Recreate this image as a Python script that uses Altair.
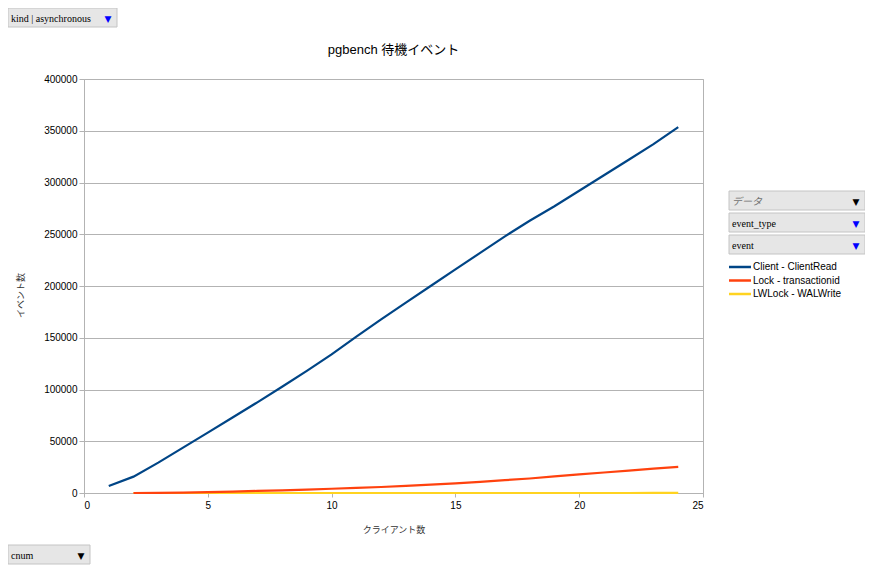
import altair as alt
import pandas as pd

# ---- data ----
cnum = list(range(1, 25))
client_read = [6800, 15800, 29300, 43800, 58300, 73000, 87600, 102700, 118000, 134000,
               151000, 167800, 184000, 200000, 216000, 232000, 248000, 263000, 277000,
               292000, 307000, 322000, 337000, 353500]
cnum_lock = list(range(2, 25))
lock_txid = [0, 100, 300, 900, 1400, 2000, 2600, 3300, 4100, 4900, 5800, 6800, 8000,
             9300, 10800, 12400, 14000, 16000, 18000, 19800, 21700, 23500, 25200]
lwlock_walwrite = [0, 0, 0, 0, 0, 0, 0, 0, 0, 0, 0, 0, 0, 0, 0, 0, 0, 0, 0, 0, 0, 50, 100]

series_names = ["Client - ClientRead", "Lock - transactionid", "LWLock - WALWrite"]
series_colors = ["#004586", "#ff420e", "#ffd320"]
chart_title = "pgbench  待機イベント"

rows = []
for x, v in zip(cnum, client_read):
    rows.append({"cnum": x, "value": v, "series": series_names[0], "ord": 0})
for x, v in zip(cnum_lock, lwlock_walwrite):
    rows.append({"cnum": x, "value": v, "series": series_names[2], "ord": 1})
for x, v in zip(cnum_lock, lock_txid):
    rows.append({"cnum": x, "value": v, "series": series_names[1], "ord": 2})
df = pd.DataFrame(rows)

FONT = "Liberation Sans, Noto Sans CJK JP"

lines = alt.Chart(df).mark_line(strokeWidth=2.2).encode(
    x=alt.X("cnum:Q", scale=alt.Scale(domain=[0, 25], nice=False),
            axis=alt.Axis(values=[0, 5, 10, 15, 20, 25], title="クライアント数",
                          grid=False, tickSize=4, labelPadding=3,
                          titlePadding=15, titleFontSize=9, titleFontWeight="normal",
                          titleColor="#333333")),
    y=alt.Y("value:Q", scale=alt.Scale(domain=[0, 400000], nice=False),
            axis=alt.Axis(values=list(range(0, 400001, 50000)), format="d",
                          title="イベント数", grid=True, tickSize=5, labelPadding=2,
                          titleFontSize=9, titleFontWeight="normal", titleColor="#333333",
                          titleX=-64, titleY=216, titleAngle=-90, titleAlign="center",
                          titleBaseline="middle")),
    color=alt.Color("series:N",
                    scale=alt.Scale(domain=series_names, range=series_colors),
                    legend=None),
    order=alt.Order("ord:Q"),
    detail="series:N",
)


def button(x, y, w, h, text, arrow_color, text_color="black", italic=False):
    d = alt.Data(values=[{}])
    rect = alt.Chart(d).mark_rect(fill="#e6e6e6", stroke="#c4c4c4", strokeWidth=1).encode(
        x=alt.value(x), x2=alt.value(x + w), y=alt.value(y), y2=alt.value(y + h))
    txt = alt.Chart(d).mark_text(align="left", baseline="middle", fontSize=10,
                                 font="Liberation Serif, Noto Sans CJK JP",
                                 fontStyle="italic" if italic else "normal",
                                 color=text_color, text=text).encode(
        x=alt.value(x + 3), y=alt.value(y + h / 2 + 1))
    arr = alt.Chart(d).mark_text(align="center", baseline="middle", fontSize=9,
                                 font="DejaVu Sans", color=arrow_color, text="▼").encode(
        x=alt.value(x + w - 9), y=alt.value(y + h / 2 + 1))
    return [rect, txt, arr]


def legend_entry(y, name, color):
    d = alt.Data(values=[{}])
    sym = alt.Chart(d).mark_rule(color=color, strokeWidth=2.5).encode(
        x=alt.value(645), x2=alt.value(667), y=alt.value(y))
    lab = alt.Chart(d).mark_text(align="left", baseline="middle", fontSize=10, font=FONT,
                                 color="#000000", text=name).encode(
        x=alt.value(669), y=alt.value(y))
    return [sym, lab]


title_mark = alt.Chart(alt.Data(values=[{}])).mark_text(
    align="center", baseline="middle", fontSize=13, font=FONT, color="#000000",
    text=chart_title).encode(x=alt.value(309.5), y=alt.value(-29))

layers = [lines, title_mark]
layers += button(-76, -71, 109, 19, "kind | asynchronous", "#0000ff")
layers += button(645, 112, 136, 19, "データ", "#000000", text_color="#707070", italic=True)
layers += button(645, 134, 136, 19, "event_type", "#0000ff")
layers += button(645, 156, 136, 19, "event", "#0000ff")
layers += button(-76, 466, 82, 19, "cnum", "#000000")
for i, (nm, col) in enumerate(zip(series_names, series_colors)):
    layers += legend_entry(188 + 13.5 * i, nm, col)

chart = alt.layer(*layers).properties(
    width=619, height=414,
    autosize=alt.AutoSizeParams(type="none"),
    padding={"left": 76, "top": 71, "right": 162, "bottom": 72},
).configure_view(stroke="#b3b3b3", strokeWidth=1).configure_axis(
    labelFont=FONT, titleFont=FONT, labelFontSize=10, labelColor="#000000",
    domainColor="#b3b3b3", tickColor="#b3b3b3", gridColor="#b3b3b3",
)

chart.save("out.html", embed_options={"renderer": "svg", "actions": False})
